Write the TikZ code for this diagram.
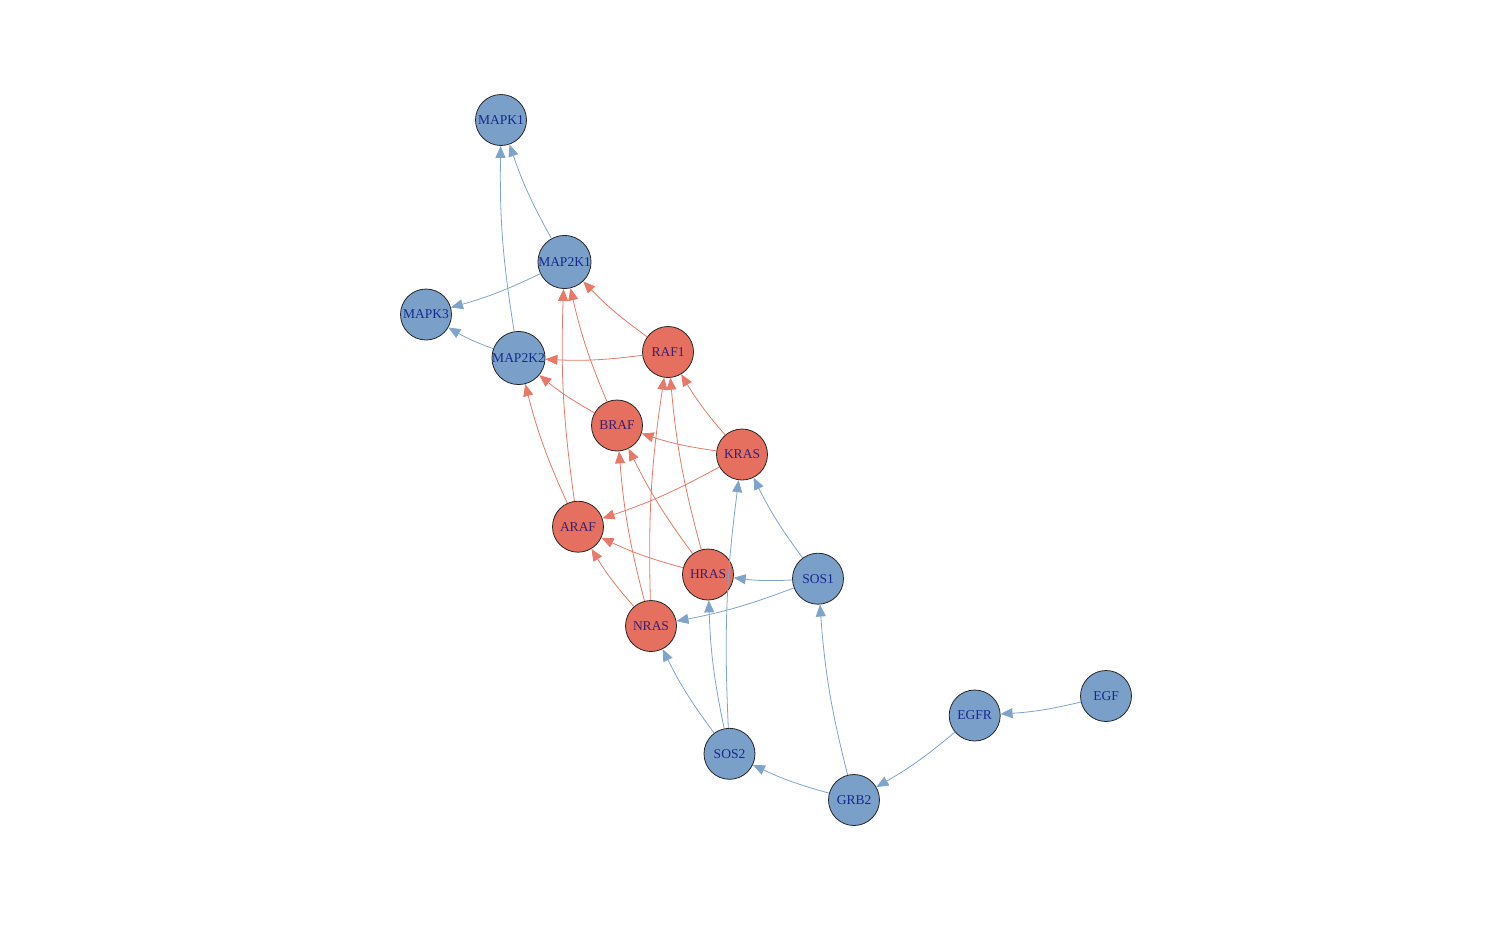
\documentclass[tikz,border=0pt]{standalone}
\usepackage{fontspec}
\setmainfont{Liberation Serif}
\usetikzlibrary{arrows.meta}
\definecolor{nblue}{HTML}{7A9FC9}
\definecolor{nred}{HTML}{E5705F}
\definecolor{eblue}{HTML}{7FA4CC}
\definecolor{ered}{HTML}{E87868}
\definecolor{tnavy}{HTML}{152A8E}
\definecolor{tred}{HTML}{3A1F70}
\tikzset{
  gnode/.style={circle, draw=black!85, line width=0.8pt, minimum size=51pt, inner sep=0pt,
    text depth=0pt, font=\fontsize{13.5}{14}\selectfont},
  bnode/.style={gnode, fill=nblue, text=tnavy},
  rnode/.style={gnode, fill=nred, text=tred},
  bedge/.style={draw=eblue, line width=0.8pt, -{Triangle[length=12pt,width=10pt]}, bend left=5},
  redge/.style={draw=ered, line width=0.8pt, -{Triangle[length=12pt,width=10pt]}, bend left=5},
}
\begin{document}
\begin{tikzpicture}[x=1pt,y=-1pt]
\useasboundingbox (0,0) rectangle (1500,937);
% nodes
\node[bnode] (MAPK1) at (501,120) {MAPK1};
\node[bnode] (MAP2K1) at (564.5,262) {MAP2K1};
\node[bnode] (MAPK3) at (426,314.5) {MAPK3};
\node[bnode] (MAP2K2) at (518.5,358) {MAP2K2};
\node[rnode] (RAF1) at (668,352) {RAF1};
\node[rnode] (BRAF) at (617,425.5) {BRAF};
\node[rnode] (KRAS) at (742,454.5) {KRAS};
\node[rnode] (ARAF) at (578,526.7) {ARAF};
\node[rnode] (HRAS) at (708,574.5) {HRAS};
\node[bnode] (SOS1) at (818,578.7) {SOS1};
\node[rnode] (NRAS) at (651,626) {NRAS};
\node[bnode] (SOS2) at (729.5,753.8) {SOS2};
\node[bnode] (GRB2) at (854,800) {GRB2};
\node[bnode] (EGFR) at (974.7,715.5) {EGFR};
\node[bnode] (EGF) at (1106,696) {EGF};
% blue edges
\draw[bedge] (MAP2K1) to (MAPK1);
\draw[bedge] (MAP2K2) to (MAPK1);
\draw[bedge] (MAP2K1) to (MAPK3);
\draw[bedge] (MAP2K2) to (MAPK3);
\draw[bedge] (SOS1) to (KRAS);
\draw[bedge] (SOS1) to (HRAS);
\draw[bedge] (SOS1) to (NRAS);
\draw[bedge] (SOS2) to (NRAS);
\draw[bedge] (SOS2) to (HRAS);
\draw[bedge] (SOS2) to (KRAS);
\draw[bedge] (GRB2) to (SOS1);
\draw[bedge] (GRB2) to (SOS2);
\draw[bedge] (EGFR) to (GRB2);
\draw[bedge] (EGF) to (EGFR);
% red edges
\draw[redge] (RAF1) to (MAP2K1);
\draw[redge] (RAF1) to (MAP2K2);
\draw[redge] (BRAF) to (MAP2K1);
\draw[redge] (BRAF) to (MAP2K2);
\draw[redge] (ARAF) to (MAP2K1);
\draw[redge] (ARAF) to (MAP2K2);
\draw[redge] (KRAS) to (RAF1);
\draw[redge] (KRAS) to (BRAF);
\draw[redge] (KRAS) to (ARAF);
\draw[redge] (HRAS) to (RAF1);
\draw[redge] (HRAS) to (BRAF);
\draw[redge] (HRAS) to (ARAF);
\draw[redge] (NRAS) to (RAF1);
\draw[redge] (NRAS) to (BRAF);
\draw[redge] (NRAS) to (ARAF);
\end{tikzpicture}
\end{document}
